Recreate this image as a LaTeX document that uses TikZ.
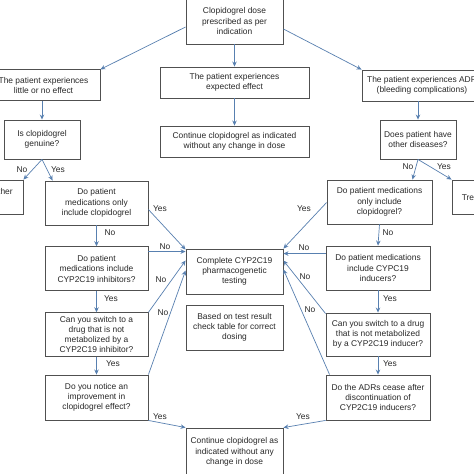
\documentclass[tikz,border=0pt]{standalone}
\usepackage{fontspec}
\setmainfont{Liberation Sans}
\usetikzlibrary{arrows.meta}
\definecolor{arrowblue}{RGB}{88,128,176}
\definecolor{boxgray}{RGB}{80,80,80}
\definecolor{txtgray}{RGB}{40,40,40}

\begin{document}
\begin{tikzpicture}[x=1pt,y=-1pt,
  every node/.style={font=\fontsize{8.4}{10.3}\selectfont,text=txtgray},
  box/.style={draw=boxgray,line width=0.9pt,align=center,inner sep=0pt},
  flow/.style={draw=arrowblue,line width=0.7pt,-{Stealth[length=5pt,width=4.5pt]}},
  lbl/.style={inner sep=1pt}]
\useasboundingbox (0,0) rectangle (474,474);
\fill[white] (0,0) rectangle (474,474);
\clip (0,0) rectangle (474,474);
% top rows
\node[box,minimum width=97,minimum height=46] (dose) at (234.5,21) {Clopidogrel dose\\prescribed as per\\indication};
\node[box,minimum width=113,minimum height=31] (lo) at (43.5,85.3) {The patient experiences\\little or no effect};
\node[box,minimum width=149,minimum height=31] (eo) at (234.5,82.5) {The patient experiences\\expected effect};
\node[box,minimum width=120,minimum height=31] (ro) at (422,85.5) {The patient experiences ADR\\(bleeding complications)};
\node[box,minimum width=149,minimum height=31] (cont1) at (234.5,141.5) {Continue clopidogrel as indicated\\without any change in dose};
\node[box,minimum width=76,minimum height=39] (gen) at (42,139.5) {Is clopidogrel\\genuine?};
\node[box,minimum width=76,minimum height=39] (dis) at (418,139.5) {Does patient have\\other diseases?};
\node[box,minimum width=85,minimum height=34] (oth) at (-19.5,197) {Consider another\\agent};
\node[box,minimum width=96,minimum height=34] (trt) at (500,197) {Treat other diseases};
% left column
\node[box,minimum width=103,minimum height=44] (L1) at (96.5,203) {Do patient\\medications only\\include clopidogrel};
\node[box,minimum width=103,minimum height=44] (L2) at (96.5,268.7) {Do patient\\medications include\\CYP2C19 inhibitors?};
\node[box,minimum width=103,minimum height=43.5] (L3) at (96.5,334.5) {Can you switch to a\\drug that is not\\metabolized by a\\CYP2C19 inhibitor?};
\node[box,minimum width=103,minimum height=45] (L4) at (96.5,397.5) {Do you notice an\\improvement in\\clopidogrel effect?};
% right column
\node[box,minimum width=105,minimum height=44] (R1) at (379.5,202) {Do patient medications\\only include\\clopidogrel?};
\node[box,minimum width=104,minimum height=44] (R2) at (378,268) {Do patient medications\\include CYPC19\\inducers?};
\node[box,minimum width=104,minimum height=43] (R3) at (378,334.5) {Can you switch to a drug\\that is not metabolized\\by a CYP2C19 inducer?};
\node[box,minimum width=104,minimum height=45] (R4) at (378,397.5) {Do the ADRs cease after\\discontinuation of\\CYP2C19 inducers?};
% centre
\node[box,minimum width=97,minimum height=45] (cpl) at (234.5,271.5) {Complete CYP2C19\\pharmacogenetic\\testing};
\node[box,minimum width=97,minimum height=45] (tbl) at (234.5,327.5) {Based on test result\\check table for correct\\dosing};
\node[box,minimum width=97,minimum height=48] (cont2) at (234.5,452) {Continue clopidogrel as\\indicated without any\\change in dose};
\coordinate (cplw) at ([yshift=-3pt]cpl.north west);
\coordinate (cple) at ([yshift=-5pt]cpl.north east);
% arrows
\draw[flow] ([yshift=-6pt]dose.west) -- (lo.north east);
\draw[flow] (dose.south) -- (eo.north);
\draw[flow] ([yshift=-8pt]dose.east) -- (ro.north west);
\draw[flow] (gen.north |- lo.south) -- (gen.north);
\draw[flow] (eo.south) -- (cont1.north);
\draw[flow] (dis.north |- ro.south) -- (dis.north);
\draw[flow] (gen.south) -- (oth.north east);
\draw[flow] (gen.south) -- ([xshift=8pt]L1.north west);
\draw[flow] (dis.south) -- ([xshift=-20pt]R1.north east);
\draw[flow] (dis.south) -- (trt.north west);
\draw[flow] ([yshift=-29pt]L1.north east) -- ([yshift=-1pt]cpl.north west);
\draw[flow] (L1.south) -- (L2.north);
\draw[flow] (L2.east |- cplw) -- (cplw);
\draw[flow] (L2.south) -- (L3.north);
\draw[flow] (L3.north east) -- ([yshift=-12pt]cpl.north west);
\draw[flow] (L3.south) -- (L4.north);
\draw[flow] (L4.north east) -- ([yshift=-22pt]cpl.north west);
\draw[flow] (L4.south east) -- (cont2.north west);
\draw[flow] ([yshift=-23pt]R1.north west) -- (cpl.north east);
\draw[flow] (R1.south) -- (R2.north);
\draw[flow] (R2.west |- cple) -- (cple);
\draw[flow] (R2.south) -- (R3.north);
\draw[flow] ([yshift=-1pt]R3.north west) -- ([yshift=-12pt]cpl.north east);
\draw[flow] (R3.south) -- (R4.north);
\draw[flow] ([xshift=4pt]R4.north west) -- ([yshift=-21pt]cpl.north east);
\draw[flow] (R4.south west) -- (cont2.north east);
% labels
\node[lbl] (n1) at (22,170) {No};
\node[lbl] (y1) at (58,170) {Yes};
\node[lbl] (n2) at (408,167) {No};
\node[lbl] (y2) at (444,167) {Yes};
\node[lbl] (y3) at (160,209) {Yes};
\node[lbl] (n3) at (110,233) {No};
\node[lbl] (n4) at (165,247) {No};
\node[lbl] (y4) at (111,299) {Yes};
\node[lbl] (n5) at (161,280) {No};
\node[lbl] (n6) at (163,313) {No};
\node[lbl] (y5) at (113,364) {Yes};
\node[lbl] (y6) at (160,417) {Yes};
\node[lbl] (y7) at (304,209) {Yes};
\node[lbl] (n7) at (388,233) {No};
\node[lbl] (n8) at (304,248) {No};
\node[lbl] (n9) at (305,277) {No};
\node[lbl] (n10) at (310,310) {No};
\node[lbl] (y8) at (390,299) {Yes};
\node[lbl] (y9) at (390,364) {Yes};
\node[lbl] (y10) at (303,417) {Yes};
\end{tikzpicture}
\end{document}
